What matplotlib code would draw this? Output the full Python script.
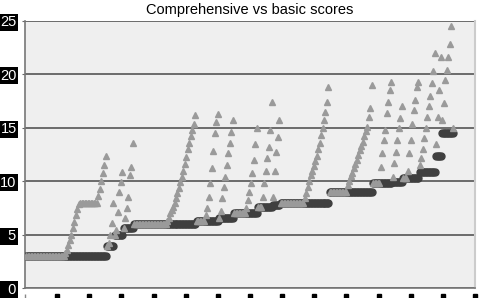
import numpy as np
import matplotlib
matplotlib.use("Agg")
import matplotlib.pyplot as plt
import matplotlib.transforms as mtransforms

plt.rcParams['font.family'] = ['Liberation Sans', 'DejaVu Sans']

# one entry per group of subjects sharing the same basic score
basic_levels = [3.0, 3.9, 5.0, 5.6, 6.0, 6.3, 6.6, 7.0, 7.6, 7.8,
                8.0, 9.0, 9.8, 9.9, 10.3, 10.9, 12.4, 14.5]
# how many subjects in the group score the same on both scales
equal_counts = [26, 1, 1, 1, 22, 6, 1, 8, 3, 0, 16, 12, 5, 0, 3, 0, 0, 0]
# comprehensive scores of the remaining subjects in each group
raised_scores = [
    [3.3, 3.6, 4.0, 4.5, 5.0, 5.6, 6.2, 6.8, 7.4, 7.9,
     8.0, 8.0, 8.0, 8.0, 8.0, 8.0, 8.0, 8.0, 8.0, 8.0, 8.0, 8.0,
     8.6, 9.3, 10.0, 10.8, 11.5, 12.4],
    [4.2, 5.0, 6.1, 8.0],
    [5.4, 7.1, 9.0, 9.9, 10.9],
    [6.6, 7.5, 8.5, 10.6, 11.3, 13.6],
    [6.3, 6.6, 7.0, 7.3, 7.6, 8.0, 8.4, 8.9, 9.4, 9.9,
     10.4, 11.0, 11.6, 12.3, 13.0, 13.6, 14.2, 14.8, 15.4, 16.2],
    [6.8, 7.5, 8.5, 9.8, 11.2, 12.8, 14.5, 15.5, 16.3],
    [7.2, 8.4, 9.5, 10.4, 11.5, 12.6, 13.6, 14.6, 15.7],
    [7.5, 8.2, 9.0, 9.8, 10.8, 12.0, 13.5, 15.0],
    [8.5, 9.8, 11.0, 12.2, 13.2, 14.8, 17.4],
    [8.5, 11.0, 12.7, 14.1, 15.7],
    [8.4, 8.9, 9.5, 10.0, 10.6, 11.0, 11.4, 11.9, 12.4, 13.0,
     13.6, 14.3, 15.0, 15.7, 16.5, 17.4, 18.8],
    [9.6, 10.0, 10.5, 10.8, 11.2, 11.6, 12.0, 12.5, 12.9, 13.3,
     13.7, 14.2, 14.7, 15.1, 16.0, 16.9, 19.0],
    [11.3, 12.6, 13.9, 14.8, 16.4, 17.4, 18.5, 19.3],
    [10.4, 11.7, 12.7, 13.9, 15.0, 15.9, 17.0],
    [11.0, 12.6, 13.9, 15.4, 16.7, 17.6, 18.8, 19.3],
    [11.5, 12.2, 13.0, 14.0, 15.0, 16.0, 17.0, 18.0, 19.2, 20.3, 22.0],
    [13.5, 16.0, 18.5, 21.6],
    [15.7, 17.3, 19.5, 20.4, 21.6, 22.8, 24.5, 15.0],
]
y_ticks = [0, 5, 10, 15, 20, 25]

basic = []
comp = []
for b, n_eq, extra in zip(basic_levels, equal_counts, raised_scores):
    basic += [b] * (n_eq + len(extra))
    comp += [b] * n_eq + extra
x = np.arange(len(basic))

fig = plt.figure(figsize=(4.8, 2.98), dpi=100)
ax = fig.add_axes([25 / 480, 10 / 298, 450 / 480, 267 / 298])
ax.set_facecolor('#efefef')

ax.plot(x, basic, 'o', color='#3f3f3f', ms=5, mec='#3f3f3f', zorder=3)
ax.plot(x, comp, '^', color='#9a9a9a', ms=4.8, mec='#9a9a9a', zorder=4)

ax.set_xlim(-1, 300)
ax.set_ylim(0, 25)
ax.set_yticks(y_ticks)
ax.set_yticklabels([f'{v:>2}'.replace(' ', '\u2007') for v in y_ticks],
                   color='white', fontsize=10.5)
for lab in ax.get_yticklabels():
    lab.set_bbox(dict(facecolor='black', edgecolor='none', pad=1))
ax.tick_params(axis='y', length=2.5, color='#666666', pad=3.5)

# category ticks show as small black squares below the axis
xt = np.linspace(-1, 300, 15)
ax.set_xticks(xt)
ax.tick_params(axis='x', length=0, labelbottom=False)
trans = mtransforms.blended_transform_factory(ax.transData, ax.transAxes)
ax.plot(xt[1:], [-0.03] * 14, 's', color='black', ms=2.2, transform=trans,
        clip_on=False)
ax.plot(xt[:1], [-0.03], '|', color='#888888', ms=2.5, transform=trans,
        clip_on=False)

ax.grid(axis='y', color='#555555', lw=1.2, zorder=1)
ax.set_axisbelow(True)
for side in ['left', 'bottom']:
    ax.spines[side].set_color('#777777')
    ax.spines[side].set_linewidth(1.2)
ax.spines['right'].set_color('#cccccc')
ax.spines['right'].set_linewidth(1.5)
ax.spines['top'].set_visible(False)

ax.set_title('Comprehensive vs basic scores', fontsize=10.5, pad=5)

fig.savefig('out.png', dpi=100)
